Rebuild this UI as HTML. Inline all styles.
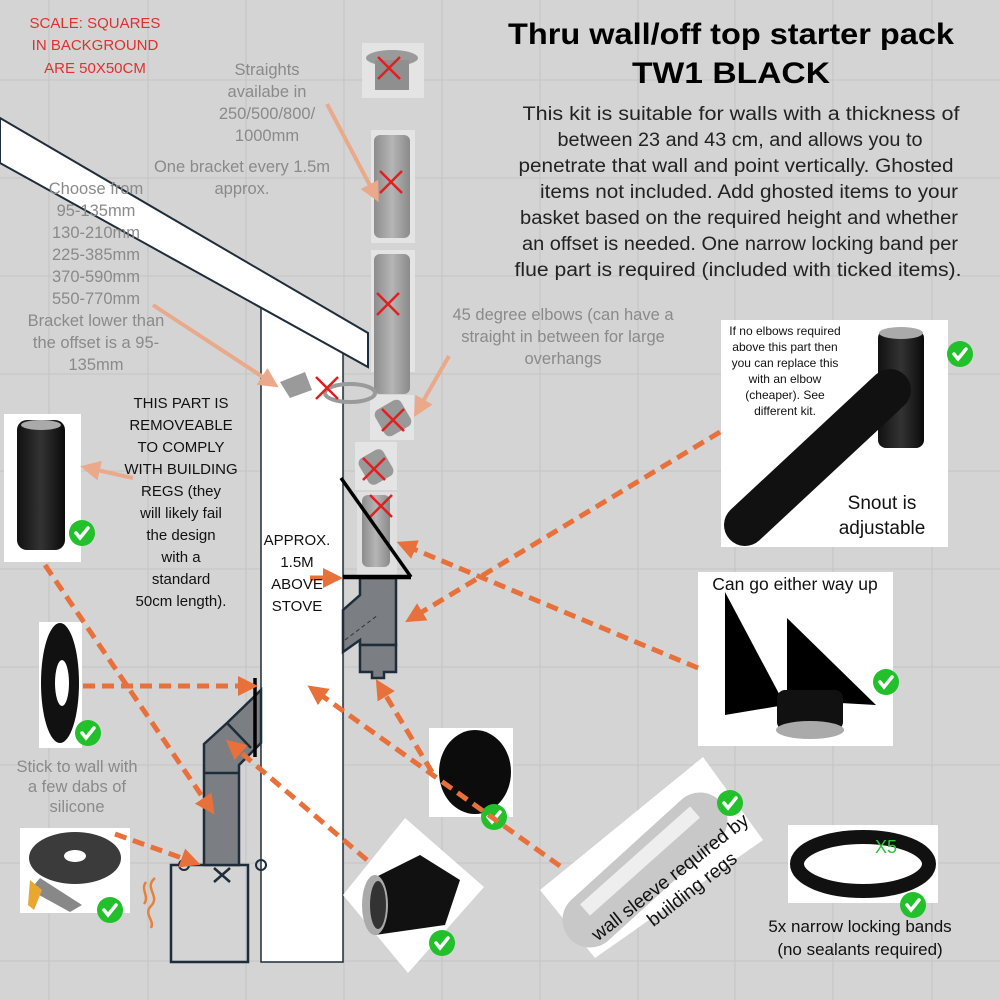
<!DOCTYPE html>
<html><head><meta charset="utf-8"><style>
html,body{margin:0;padding:0;width:1000px;height:1000px;overflow:hidden;background:#d4d4d4}
svg{display:block}
text{font-family:"Liberation Sans",sans-serif}
</style></head><body>
<svg width="1000" height="1000" viewBox="0 0 1000 1000" xmlns="http://www.w3.org/2000/svg">
<defs>
<marker id="ao" viewBox="0 0 10 10" refX="6" refY="5" markerWidth="4" markerHeight="4" orient="auto"><path d="M0,0L10,5L0,10z" fill="#e8703a"/></marker>
<marker id="as" viewBox="0 0 10 10" refX="6" refY="5" markerWidth="5" markerHeight="5" orient="auto"><path d="M0,0L10,5L0,10z" fill="#e9a98a"/></marker>
<g id="chk"><circle r="13" fill="#22c02a"/><path d="M-6,0L-2,5L6,-5" stroke="#fff" stroke-width="3.5" fill="none" stroke-linecap="round"/></g>
<g id="rx"><path d="M-11,-11L11,11M11,-11L-11,11" stroke="#e02020" stroke-width="2.5"/></g>
<linearGradient id="gp" x1="0" x2="1"><stop offset="0" stop-color="#8d8d8d"/><stop offset=".5" stop-color="#b5b5b5"/><stop offset="1" stop-color="#8a8a8a"/></linearGradient>
<linearGradient id="bp" x1="0" x2="1"><stop offset="0" stop-color="#111"/><stop offset=".5" stop-color="#333"/><stop offset="1" stop-color="#0a0a0a"/></linearGradient>
</defs>
<rect width="1000" height="1000" fill="#d4d4d4"/>
<g stroke="#c6c6c6" stroke-width="1.2">
<path d="M49,0V1000M148,0V1000M246,0V1000M344,0V1000M442,0V1000M540,0V1000M638,0V1000M735,0V1000M833,0V1000M932,0V1000"/>
<path d="M0,80H1000M0,178H1000M0,276H1000M0,374H1000M0,471H1000M0,569H1000M0,667H1000M0,765H1000M0,863H1000M0,961H1000"/>
</g>
<!-- wall -->
<polygon points="261,300 343,345 343,962 261,962" fill="#fff" stroke="#1f2d3a" stroke-width="1.5"/>
<!-- roof -->
<polygon points="0,118 368,333 368,367 0,163" fill="#fff" stroke="#1f2d3a" stroke-width="2"/>
<!-- stove -->
<rect x="171" y="865" width="77" height="97" fill="none" stroke="#1f2d3a" stroke-width="2.5"/>
<circle cx="184" cy="865" r="5" fill="none" stroke="#1f2d3a" stroke-width="2"/>
<circle cx="261" cy="865" r="5" fill="none" stroke="#1f2d3a" stroke-width="2"/>
<!-- inside flue -->
<polygon points="204,865 204,744 227,723 261,690 261,743 239,765 239,865" fill="#7b7e82" stroke="#1f2d3a" stroke-width="2.5"/>
<line x1="204" y1="773" x2="239" y2="773" stroke="#1f2d3a" stroke-width="2.5"/>
<line x1="227" y1="723" x2="251" y2="748" stroke="#1f2d3a" stroke-width="2.5"/>
<path d="M214,868L230,882M230,868L214,882" stroke="#1f2d3a" stroke-width="2.5"/>
<line x1="255" y1="678" x2="255" y2="757" stroke="#000" stroke-width="3.5"/>
<!-- outside tee -->
<polygon points="343,610 360,595 360,578 396,578 396,645 360,645 360,640 343,652" fill="#7b7e82" stroke="#1f2d3a" stroke-width="2.5"/>
<path d="M360,645H396V672H384V678H372V672H360Z" fill="#7b7e82" stroke="#1f2d3a" stroke-width="2.5"/>
<path d="M345,640L378,615" stroke="#333" stroke-width="1" stroke-dasharray="4,3"/>
<!-- products top -->
<rect x="362" y="43" width="62" height="55" fill="#e4e4e4"/>
<ellipse cx="392" cy="58" rx="26" ry="8" fill="#9a9a9a"/><rect x="375" y="60" width="34" height="30" fill="#8f8f8f"/>
<use href="#rx" x="389" y="68"/>
<rect x="371" y="130" width="44" height="113" fill="#e4e4e4"/>
<rect x="374" y="135" width="36" height="103" rx="6" fill="url(#gp)"/><use href="#rx" x="391" y="182"/>
<rect x="371" y="250" width="44" height="122" fill="#e4e4e4"/>
<rect x="374" y="254" width="36" height="140" rx="6" fill="url(#gp)"/><use href="#rx" x="388" y="304"/>
<rect x="370" y="395" width="44" height="45" fill="#e4e4e4"/>
<rect x="378" y="403" width="30" height="30" rx="6" fill="#999" transform="rotate(-30 393 418)"/><use href="#rx" x="393" y="420"/>
<rect x="355" y="442" width="42" height="48" fill="#e4e4e4"/>
<rect x="362" y="452" width="28" height="30" rx="6" fill="#999" transform="rotate(-30 376 467)"/><use href="#rx" x="374" y="469"/>
<rect x="357" y="492" width="40" height="85" fill="#e0e0e0"/>
<rect x="362" y="495" width="28" height="72" rx="6" fill="url(#gp)"/><use href="#rx" x="381" y="506"/>
<line x1="341" y1="478" x2="411" y2="577" stroke="#000" stroke-width="3.5"/>
<line x1="343" y1="577" x2="411" y2="577" stroke="#000" stroke-width="4.5"/>
<!-- bracket near roof -->
<polygon points="280,382 305,372 312,390 290,398" fill="#9a9a9a"/>
<ellipse cx="350" cy="393" rx="25" ry="9" fill="none" stroke="#9a9a9a" stroke-width="4"/>
<use href="#rx" x="327" y="388"/>
<!-- left products -->
<rect x="4" y="414" width="77" height="148" fill="#fff"/>
<rect x="17" y="420" width="48" height="130" rx="10" fill="url(#bp)"/>
<ellipse cx="41" cy="425" rx="20" ry="5" fill="#aaa"/>
<use href="#chk" x="82" y="533"/>
<rect x="39" y="622" width="43" height="126" fill="#fff"/>
<ellipse cx="60" cy="683" rx="19" ry="60" fill="#111"/><ellipse cx="62" cy="683" rx="7" ry="23" fill="#fff"/>
<use href="#chk" x="88" y="733"/>
<rect x="20" y="828" width="110" height="85" fill="#fff"/>
<ellipse cx="75" cy="858" rx="46" ry="26" fill="#3b3b3b"/><ellipse cx="75" cy="856" rx="11" ry="6" fill="#fff"/>
<path d="M40,878L82,905L70,912L30,890Z" fill="#888"/><path d="M30,880L42,890L34,910L28,905Z" fill="#e8a830"/>
<use href="#chk" x="110" y="910"/>
<path d="M155,878c-12,10 6,18 -4,28c-8,8 4,14 0,22M146,882c-6,8 4,14 -2,22" stroke="#e8803a" stroke-width="2.5" fill="none"/>
<!-- right products -->
<rect x="721" y="320" width="227" height="227" fill="#fff"/>
<rect x="878" y="330" width="46" height="118" rx="8" fill="url(#bp)"/><ellipse cx="901" cy="333" rx="22" ry="6" fill="#aaa"/>
<line x1="745" y1="525" x2="890" y2="390" stroke="#111" stroke-width="42" stroke-linecap="round"/>
<use href="#chk" x="960" y="354"/>
<rect x="698" y="572" width="195" height="174" fill="#fff"/>
<polygon points="725,592 725,715 785,705" fill="#000"/>
<polygon points="787,618 787,700 876,705" fill="#000"/>
<rect x="777" y="690" width="66" height="40" rx="8" fill="#111"/><ellipse cx="810" cy="730" rx="34" ry="9" fill="#aaa"/>
<use href="#chk" x="886" y="682"/>
<rect x="429" y="728" width="84" height="89" fill="#fff"/>
<ellipse cx="475" cy="772" rx="36" ry="42" fill="#0c0c0c"/>
<use href="#chk" x="494" y="817"/>
<polygon points="405,818 484,887 408,973 343,895" fill="#fff"/>
<path d="M370,880L420,855L460,880L445,925L375,935Z" fill="#111"/><ellipse cx="375" cy="905" rx="13" ry="30" fill="#aaa"/><ellipse cx="378" cy="905" rx="8" ry="24" fill="#333"/>
<use href="#chk" x="442" y="943"/>
<polygon points="540,890 703,757 763,840 595,958" fill="#fff"/>
<line x1="590" y1="920" x2="700" y2="820" stroke="#c8c8c8" stroke-width="55" stroke-linecap="round"/>
<line x1="585" y1="910" x2="695" y2="812" stroke="#eee" stroke-width="15"/>
<use href="#chk" x="730" y="803"/>
<g transform="rotate(-38 680 890)" font-size="19" fill="#111" text-anchor="middle"><text x="680" y="880">wall sleeve required by</text><text x="690" y="903">building regs</text></g>
<rect x="788" y="825" width="150" height="78" fill="#fff"/>
<ellipse cx="863" cy="864" rx="66" ry="27" fill="none" stroke="#111" stroke-width="14"/>
<text x="886" y="853" font-size="18" fill="#2ec43a" text-anchor="middle">X5</text>
<use href="#chk" x="913" y="905"/>
<!-- solid salmon arrows -->
<g stroke="#e9a98a" stroke-width="4" fill="none" marker-end="url(#as)">
<line x1="327" y1="104" x2="375" y2="195"/>
<line x1="153" y1="305" x2="272" y2="383"/>
<line x1="449" y1="356" x2="418" y2="410"/>
<line x1="133" y1="478" x2="88" y2="468"/>
</g>
<!-- dashed orange arrows -->
<g stroke="#e8703a" stroke-width="5" stroke-dasharray="12,7" fill="none" marker-end="url(#ao)">
<line x1="45" y1="565" x2="210" y2="808"/>
<line x1="83" y1="686" x2="250" y2="686"/>
<line x1="115" y1="834" x2="193" y2="862"/>
<line x1="720" y1="432" x2="412" y2="618"/>
<line x1="698" y1="668" x2="404" y2="545"/>
<line x1="560" y1="866" x2="314" y2="690"/>
<line x1="432" y1="772" x2="380" y2="686"/>
<line x1="367" y1="860" x2="232" y2="745"/>
<line x1="310" y1="578" x2="335" y2="578" stroke-dasharray="none"/>
</g>
<!-- texts -->
<g fill="#e03030" font-size="15" text-anchor="middle"><text x="95" y="28">SCALE: SQUARES</text><text x="95" y="50">IN BACKGROUND</text><text x="95" y="73">ARE 50X50CM</text></g>
<g fill="#8a8a8a" font-size="16.5" text-anchor="middle">
<text x="267" y="75">Straights</text><text x="267" y="97">availabe in</text><text x="267" y="119">250/500/800/</text><text x="267" y="141">1000mm</text>
<text x="242" y="172">One bracket every 1.5m</text><text x="242" y="194">approx.</text>
<text x="96" y="194">Choose from</text><text x="96" y="216">95-135mm</text><text x="96" y="238">130-210mm</text><text x="96" y="260">225-385mm</text><text x="96" y="282">370-590mm</text><text x="96" y="304">550-770mm</text><text x="96" y="326">Bracket lower than</text><text x="96" y="348">the offset is a 95-</text><text x="96" y="370">135mm</text>
<text x="563" y="320">45 degree elbows (can have a</text><text x="563" y="342">straight in between for large</text><text x="563" y="364">overhangs</text>
<text x="77" y="772">Stick to wall with</text><text x="77" y="792">a few dabs of</text><text x="77" y="812">silicone</text>
</g>
<g fill="#111" font-size="15" text-anchor="middle">
<text x="181" y="408">THIS PART IS</text><text x="181" y="430">REMOVEABLE</text><text x="181" y="452">TO COMPLY</text><text x="181" y="474">WITH BUILDING</text><text x="181" y="496">REGS (they</text><text x="181" y="518">will likely fail</text><text x="181" y="540">the design</text><text x="181" y="562">with a</text><text x="181" y="584">standard</text><text x="181" y="606">50cm length).</text>
<text x="297" y="545">APPROX.</text><text x="297" y="567">1.5M</text><text x="297" y="589">ABOVE</text><text x="297" y="611">STOVE</text>
<text x="785" y="335" font-size="12">If no elbows required</text><text x="785" y="351" font-size="12">above this part then</text><text x="785" y="367" font-size="12">you can replace this</text><text x="785" y="383" font-size="12">with an elbow</text><text x="785" y="399" font-size="12">(cheaper). See</text><text x="785" y="415" font-size="12">different kit.</text>
<text x="882" y="509" font-size="19">Snout is</text><text x="882" y="534" font-size="19">adjustable</text>
<text x="795" y="590" font-size="17.5">Can go either way up</text>
<text x="860" y="932" font-size="17">5x narrow locking bands</text><text x="860" y="955" font-size="17">(no sealants required)</text>
</g>
<g fill="#000" text-anchor="middle" font-weight="bold" font-size="30">
<text x="731" y="44" textLength="446" lengthAdjust="spacingAndGlyphs">Thru wall/off top starter pack</text>
<text x="731" y="83" textLength="198" lengthAdjust="spacingAndGlyphs">TW1 BLACK</text></g>
<g fill="#222" font-size="19" text-anchor="middle">
<text x="741" y="120" textLength="437" lengthAdjust="spacingAndGlyphs">This kit is suitable for walls with a thickness of</text>
<text x="740" y="146" textLength="365" lengthAdjust="spacingAndGlyphs">between 23 and 43 cm, and allows you to</text>
<text x="736" y="172" textLength="435" lengthAdjust="spacingAndGlyphs">penetrate that wall and point vertically. Ghosted</text>
<text x="749" y="198" textLength="418" lengthAdjust="spacingAndGlyphs">items not included. Add ghosted items to your</text>
<text x="739" y="224" textLength="438" lengthAdjust="spacingAndGlyphs">basket based on the required height and whether</text>
<text x="740" y="250" textLength="436" lengthAdjust="spacingAndGlyphs">an offset is needed. One narrow locking band per</text>
<text x="738" y="276" textLength="447" lengthAdjust="spacingAndGlyphs">flue part is required (included with ticked items).</text>
</g>
</svg>
</body></html>
